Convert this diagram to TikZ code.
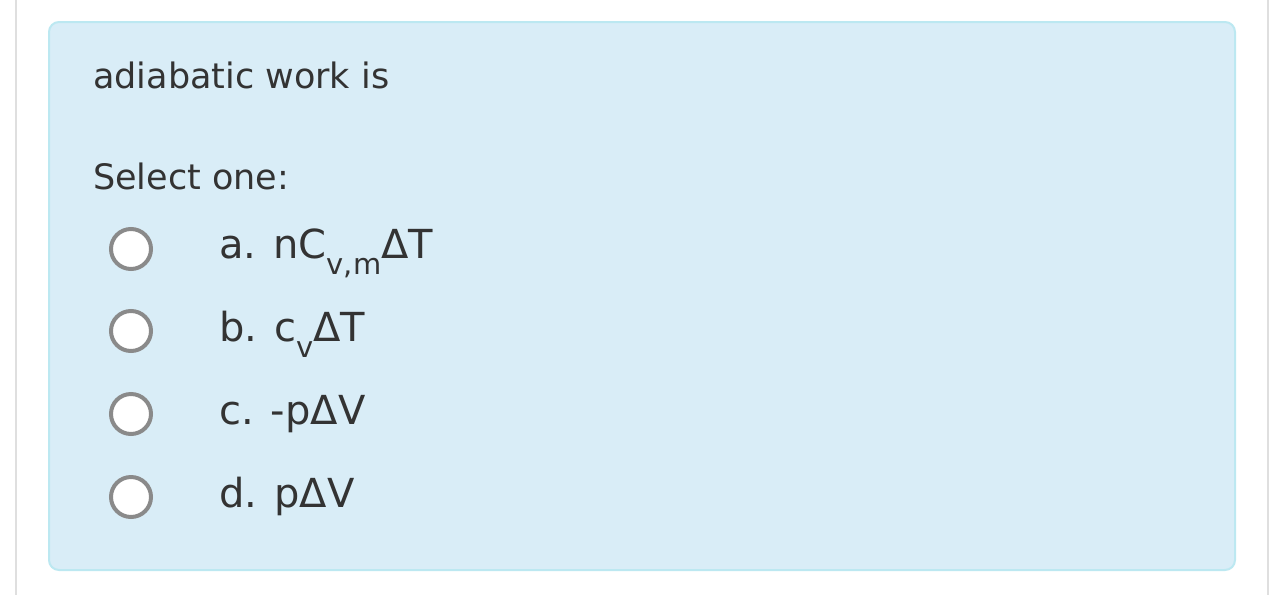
\documentclass[tikz,border=0pt]{standalone}
\usepackage{fontspec}
\setmainfont{DejaVu Sans}
\definecolor{bg}{HTML}{D9EDF7}
\definecolor{bd}{HTML}{BCE8F1}
\definecolor{tx}{HTML}{333333}
\definecolor{rd}{HTML}{8A8A8A}
\newcommand{\sbs}[1]{\raisebox{-0.42em}{\fontsize{29}{29}\selectfont #1}}
\begin{document}
\begin{tikzpicture}[x=1pt,y=-1pt,
  q/.style={anchor=base west,inner sep=0,text=tx,font=\fontsize{35}{40}\selectfont},
  opt/.style={anchor=base west,inner sep=0,text=tx,font=\fontsize{40}{46}\selectfont},
  radio/.style={draw=rd,line width=4pt,fill=white,circle,minimum size=40pt,inner sep=0}]
\useasboundingbox (0,0) rectangle (1284,595);
\fill[white] (0,0) rectangle (1284,595);
\draw[gray!25,line width=2pt] (16,0) -- (16,595);
\draw[gray!25,line width=2pt] (1268,0) -- (1268,595);
\draw[bd,fill=bg,line width=2pt,rounded corners=10pt] (49,22) rectangle (1235,570);
\node[q] (t1) at (93,88) {adiabatic work is};
\node[q] (t2) at (93,189) {Select one:};
\node[radio] (r1) at (131,249) {};
\node[radio] (r2) at (131,331) {};
\node[radio] (r3) at (131,414) {};
\node[radio] (r4) at (131,497) {};
\node[opt] (o1) at (219,258) {a. nC\sbs{v,m}ΔT};
\node[opt] (o2) at (219,341) {b. c\sbs{v}ΔT};
\node[opt] (o3) at (219,424) {c. -pΔV};
\node[opt] (o4) at (219,507) {d. pΔV};
\end{tikzpicture}
\end{document}
